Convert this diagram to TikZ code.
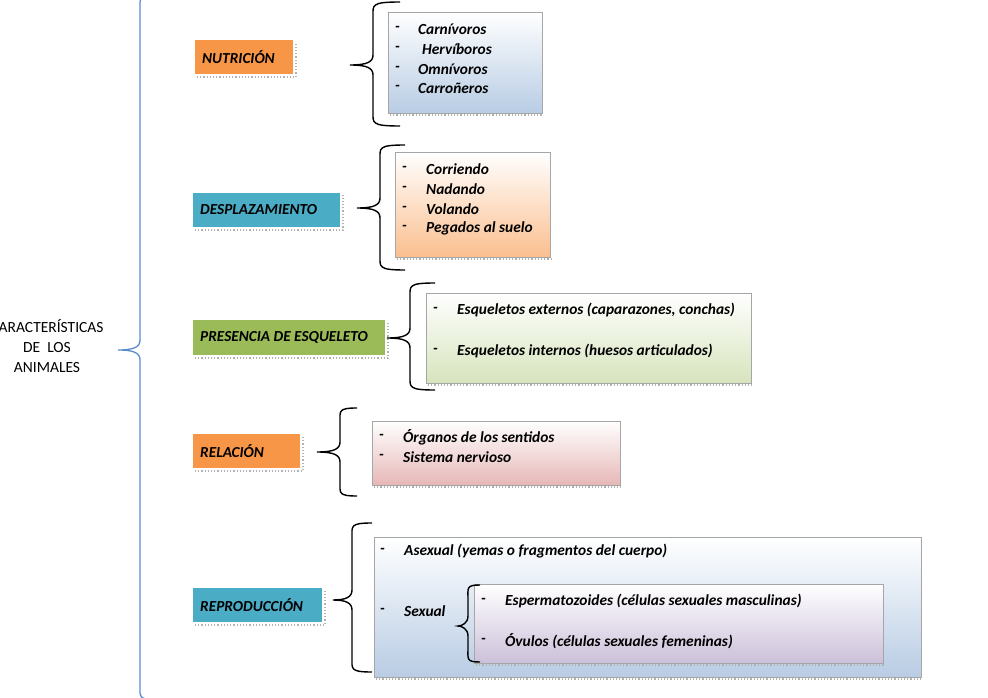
\documentclass[tikz,border=0pt]{standalone}
\usepackage{fontspec}
\setmainfont{Carlito}
\begin{document}
\begin{tikzpicture}[x=1pt,y=-1pt,
 lab/.style={anchor=west,font=\fontsize{15.3}{17}\selectfont\bfseries\itshape,inner sep=0pt},
 itm/.style={anchor=west,font=\fontsize{15.4}{17}\selectfont\bfseries\itshape,inner sep=0pt},
 brc/.style={line width=1.4pt,black},
 shd/.style={gray!60,line width=1.2pt,dotted}]
\definecolor{cor}{RGB}{247,150,70}
\definecolor{cte}{RGB}{75,172,198}
\definecolor{cgr}{RGB}{155,187,89}
\definecolor{cbl}{RGB}{184,204,228}
\definecolor{cpe}{RGB}{250,191,143}
\definecolor{clg}{RGB}{215,228,189}
\definecolor{cpk}{RGB}{230,184,183}
\definecolor{cpu}{RGB}{204,192,218}
\definecolor{cbr}{RGB}{90,140,200}
\useasboundingbox (0,0) rectangle (988,698);
\clip (0,0) rectangle (988,698);
\newcommand\mybrc[7][brc]{%
 \draw[#1] (#2,#3) .. controls ({#4-2},#3) and (#4,{#3+3}) .. (#4,{#3+14}) -- (#4,{#6-10}) .. controls (#4,{#6-3}) and ({#4-6},#6) .. (#5,#6) .. controls ({#4-6},#6) and (#4,{#6+3}) .. (#4,{#6+10}) -- (#4,{#7-14}) .. controls (#4,{#7-3}) and ({#4-2},#7) .. (#2,#7);}
% big brace
\mybrc[line width=1.3pt,cbr]{160}{-5}{140}{118}{350}{700}
\node[align=center,font=\fontsize{15.5}{20}\selectfont] (t) at (47,346) {CARACTERÍSTICAS\\DE\ \ LOS\\ANIMALES};
% category boxes
\foreach \n/\a/\b/\c/\d/\col/\txt in {n/195/40/293/74/cor/NUTRICIÓN, d/193/193/340/227/cte/DESPLAZAMIENTO, p/193/320/385/355/cgr/PRESENCIA DE ESQUELETO, r/193/434/300/468/cor/RELACIÓN, s/193/588/322/622/cte/REPRODUCCIÓN}{
 \draw[shd] (\a+2,\d+3) -- (\c+3,\d+3) -- (\c+3,\b+2);
 \fill[\col] (\a,\b) rectangle (\c,\d);
 \node[lab] (\n) at (\a+7,{(\b+\d)/2}) {\txt};}
% content boxes
\foreach \a/\b/\c/\d/\col in {388/12/542/113/cbl, 395/152/550/257/cpe, 426/293/751/383/clg, 372/421/620/485/cpk, 374/537/921/677/cbl, 474/584/883/663/cpu}{
 \draw[shd] (\a+2,\d+2) -- (\c+1,\d+2);
 \shade[top color=white,bottom color=\col] (\a,\b) rectangle (\c,\d);
 \draw[gray!70,line width=0.6pt] (\a,\b) rectangle (\c,\d);}
% braces
\mybrc{400}{2}{373}{350}{65}{126}
\mybrc{405}{145}{380}{357}{208}{270}
\mybrc{435}{283}{410}{387}{338}{390}
\mybrc{357}{408}{340}{317}{452}{496}
\mybrc{372}{523}{352}{333}{600}{672}
\mybrc{480}{585}{468}{458}{626}{662}
% items
\newcommand\itmline[4]{\node[itm] at (#1,#3) {-}; \node[itm] at (#2,#3) {#4};}
\itmline{395}{418}{29}{Carnívoros}
\itmline{395}{422}{49}{Hervíboros}
\itmline{395}{418}{69}{Omnívoros}
\itmline{395}{418}{88}{Carroñeros}
\itmline{402}{426}{169}{Corriendo}
\itmline{402}{426}{189}{Nadando}
\itmline{402}{426}{209}{Volando}
\itmline{402}{426}{228}{Pegados al suelo}
\itmline{433}{457}{310}{Esqueletos externos (caparazones, conchas)}
\itmline{433}{457}{351}{Esqueletos internos (huesos articulados)}
\itmline{379}{403}{437}{Órganos de los sentidos}
\itmline{379}{403}{457}{Sistema nervioso}
\itmline{380}{404}{551}{Asexual (yemas o fragmentos del cuerpo)}
\itmline{380}{404}{611}{Sexual}
\itmline{481}{505}{601}{Espermatozoides (células sexuales masculinas)}
\itmline{481}{505}{641}{Óvulos (células sexuales femeninas)}
\end{tikzpicture}
\end{document}
